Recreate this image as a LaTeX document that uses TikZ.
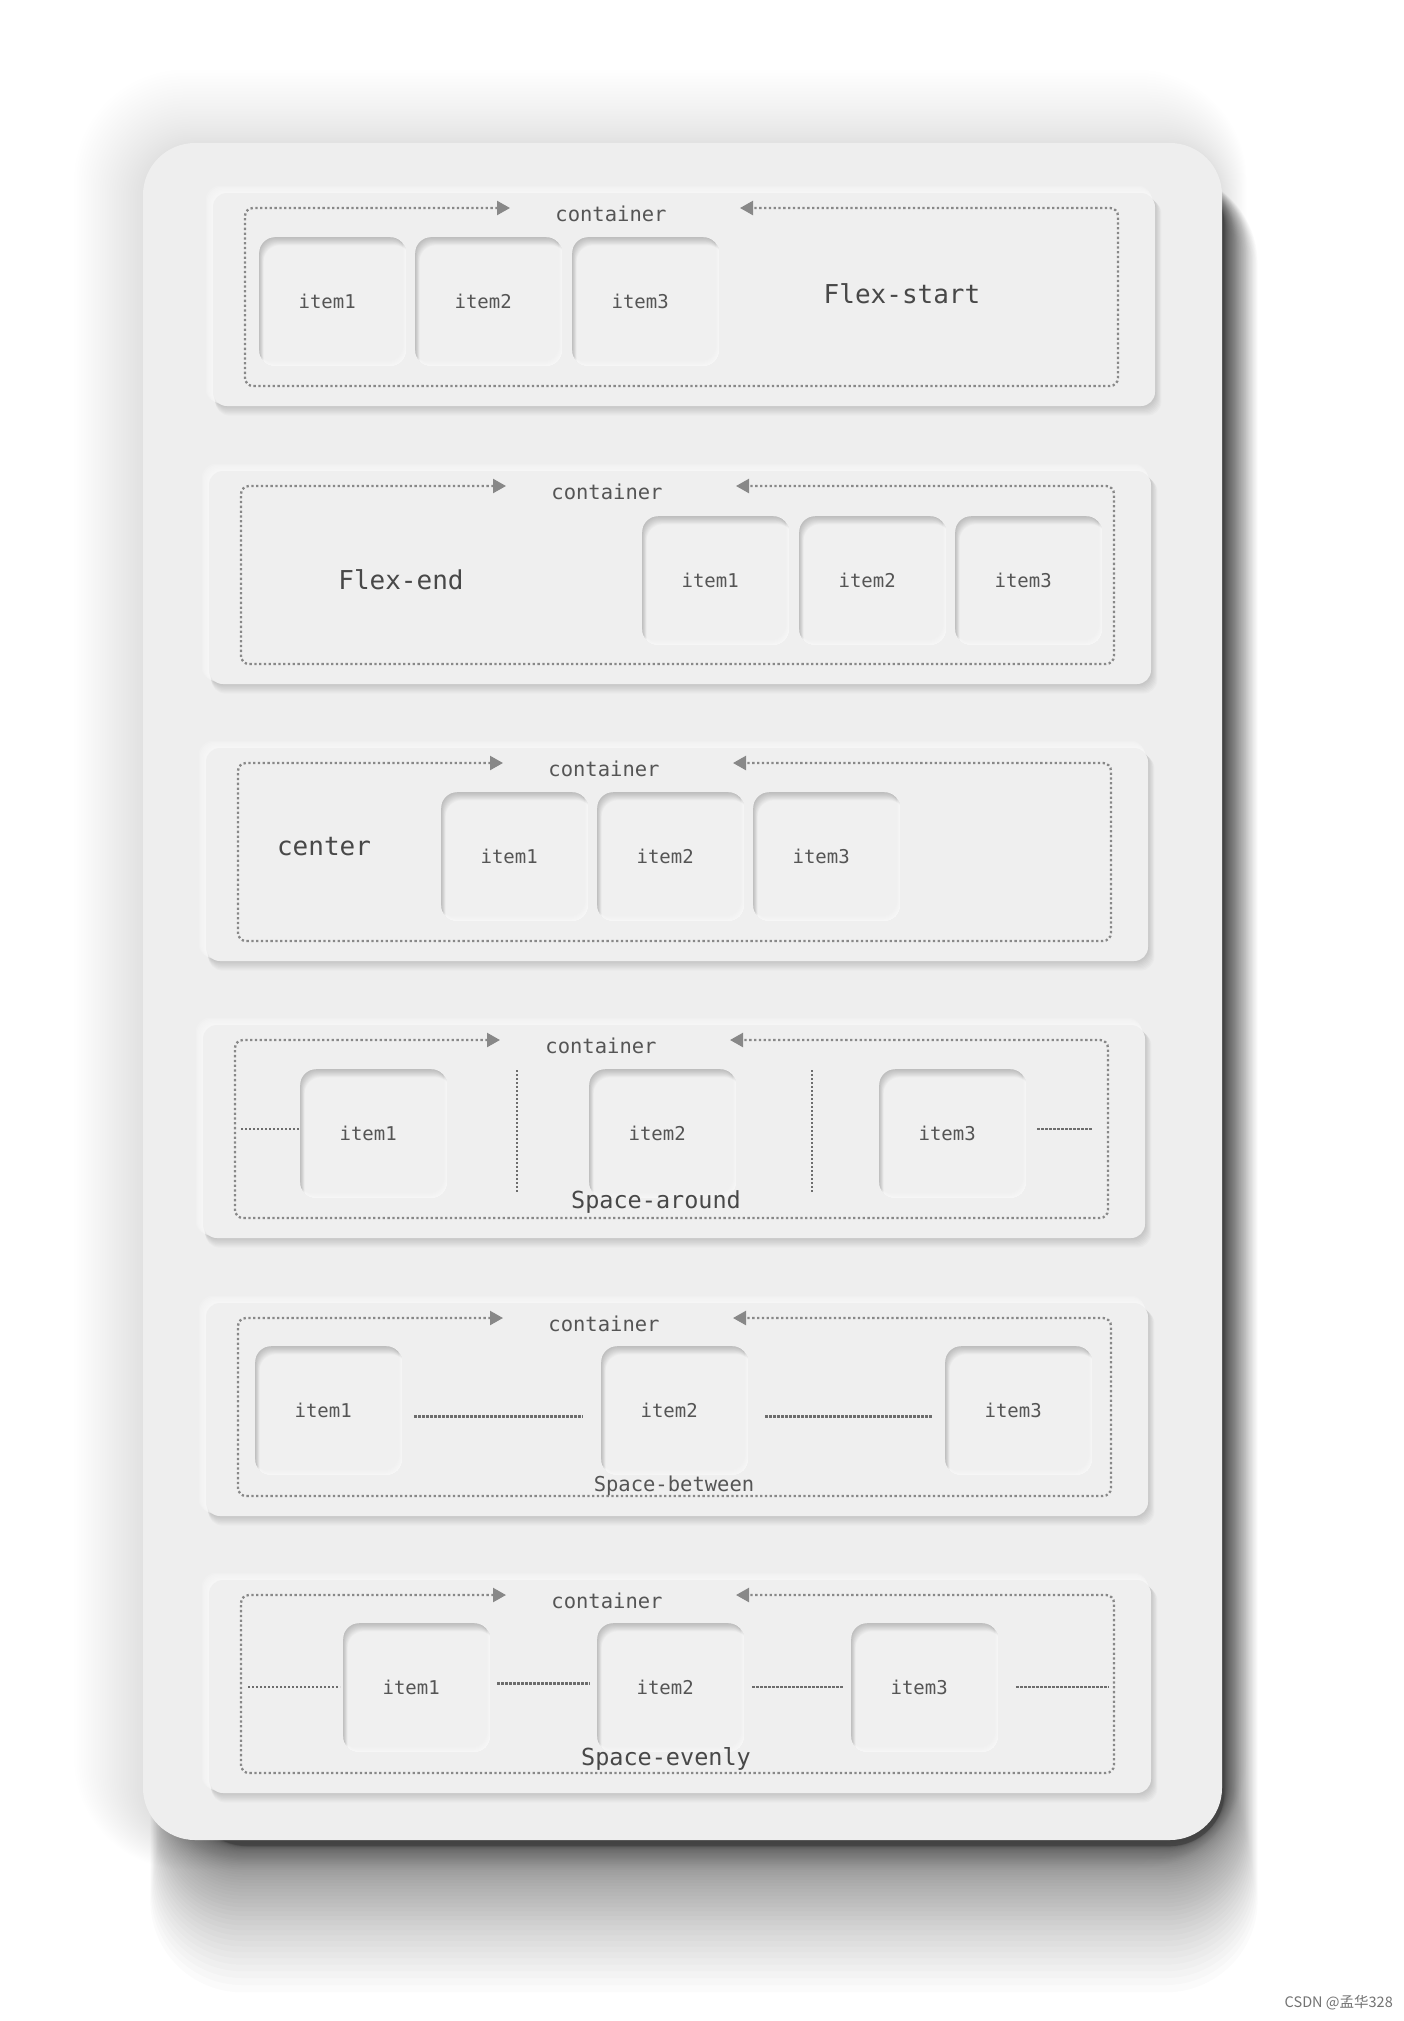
\documentclass[tikz,border=0pt]{standalone}
\usepackage{fontspec}
\newfontfamily\monof{DejaVu Sans Mono}
\newfontfamily\cjk{Noto Sans CJK SC}
\usetikzlibrary{arrows.meta}
\definecolor{cardfill}{HTML}{EEEEEE}
\definecolor{panelfill}{HTML}{EFEFEF}
\definecolor{itemfill}{HTML}{F0F0F0}
\definecolor{txt}{HTML}{555555}
\definecolor{titlec}{HTML}{484848}
\definecolor{dashc}{HTML}{888888}
\tikzset{
  itembox/.style={rounded corners=16, minimum width=147, minimum height=129, inner sep=0pt,
    fill=itemfill, text=txt, font=\monof\fontsize{19}{19}\selectfont, anchor=north west,
    execute at end node={\hspace*{11pt}},
    path picture={
      \foreach \k in {1,...,9}{
        \fill[black, opacity=0.022, even odd rule, rounded corners=16]
          ([shift={(-30,-30)}]path picture bounding box.north west) rectangle ([shift={(30,30)}]path picture bounding box.south east)
          ([shift={(0.5*\k,0.9*\k)}]path picture bounding box.north west) rectangle ([shift={(0.5*\k,0.9*\k)}]path picture bounding box.south east);
      }
      \foreach \k in {1,...,6}{
        \fill[white, opacity=0.13, even odd rule, rounded corners=16]
          ([shift={(-30,-30)}]path picture bounding box.north west) rectangle ([shift={(30,30)}]path picture bounding box.south east)
          ([shift={(-0.5*\k,-0.8*\k)}]path picture bounding box.north west) rectangle ([shift={(-0.5*\k,-0.8*\k)}]path picture bounding box.south east);
      }
    }},
  ctitle/.style={text=txt, font=\monof\fontsize{20.5}{20.5}\selectfont, inner sep=0pt},
  bigtitle/.style={text=titlec, font=\monof\fontsize{26}{26}\selectfont, inner sep=0pt},
  midtitle/.style={text=titlec, font=\monof\fontsize{23.5}{23.5}\selectfont, inner sep=0pt},
  cframe/.style={draw=dashc, line width=2.3, dash pattern=on 2.3pt off 2.5pt, rounded corners=8,
    {Triangle[length=13,width=14]}-{Triangle[length=13,width=14]}},
  dotline/.style={draw=dashc!80!black, line width=2.6, dash pattern=on 2.2pt off 1.8pt}
}
\newcommand\mypanel{%
  \foreach \k in {1,...,8}{\fill[black, opacity=0.02, rounded corners=14] ({-32+0.3*\k},{-15+0.8*\k}) rectangle ({910+0.8*\k},{198+1.2*\k});}
  \foreach \k in {1,...,6}{\fill[white, opacity=0.15, rounded corners=14] ({-32-1.2*\k},{-15-1.2*\k}) rectangle ({910-0.5*\k},{198-0.5*\k});}
  \fill[panelfill, rounded corners=14] (-32,-15) rectangle (910,198);
  \draw[cframe] (265,0) -- (0,0) -- (0,178) -- (873,178) -- (873,0) -- (495,0);
}
\begin{document}
\begin{tikzpicture}[x=1pt,y=-1pt]
\useasboundingbox (0,0) rectangle (1404,2021);
\fill[white] (0,0) rectangle (1404,2021);
% soft glow, mostly above the card
\foreach \i in {0,...,29}{
  \pgfmathsetmacro\t{(\i+0.5)/30}
  \pgfmathsetmacro\r{52+60*\t}
  \pgfmathsetmacro\xa{143-70*\t}
  \pgfmathsetmacro\ya{143-75*\t^1.3}
  \fill[black, opacity=0.0055, rounded corners=\r pt] (\xa,\ya) rectangle ({1222+25*\t},{1840+30*\t});
}
% dark shadow bottom right
\foreach \i in {0,...,59}{
  \pgfmathsetmacro\t{(\i+0.5)/60}
  \pgfmathsetmacro\r{52+40*\t}
  \pgfmathsetmacro\xa{195-45*\t}
  \pgfmathsetmacro\xb{1224+34*\t^1.5}
  \pgfmathsetmacro\yb{1846+150*\t^3}
  \fill[black, opacity=0.017, rounded corners=\r pt] (\xa,172) rectangle (\xb,\yb);
}
% card
\fill[cardfill, rounded corners=52] (143,143) rectangle (1222,1840);

% Panel 1: flex-start
\begin{scope}[shift={(245,208)}]
  \mypanel
  \node[ctitle] (c1) at (366,6) {container};
  \node[itembox] (p1a) at (14,29) {item1};
  \node[itembox] (p1b) at (170,29) {item2};
  \node[itembox] (p1c) at (327,29) {item3};
  \node[bigtitle] (t1) at (657,86) {Flex-start};
\end{scope}

% Panel 2: flex-end
\begin{scope}[shift={(241,486)}]
  \mypanel
  \node[ctitle] (c2) at (366,6) {container};
  \node[itembox] (p2a) at (401,30) {item1};
  \node[itembox] (p2b) at (558,30) {item2};
  \node[itembox] (p2c) at (714,30) {item3};
  \node[bigtitle] (t2) at (160,94) {Flex-end};
\end{scope}

% Panel 3: center
\begin{scope}[shift={(238,763)}]
  \mypanel
  \node[ctitle] (c3) at (366,6) {container};
  \node[itembox] (p3a) at (203,29) {item1};
  \node[itembox] (p3b) at (359,29) {item2};
  \node[itembox] (p3c) at (515,29) {item3};
  \node[bigtitle] (t3) at (86,84) {center};
\end{scope}

% Panel 4: space-around
\begin{scope}[shift={(235,1040)}]
  \mypanel
  \node[ctitle] (c4) at (366,6) {container};
  \node[itembox] (p4a) at (65,29) {item1};
  \node[itembox] (p4b) at (354,29) {item2};
  \node[itembox] (p4c) at (644,29) {item3};
  \coordinate (p4l) at (6,89);
  \coordinate (p4r) at (858,89);
  \coordinate (p4v1t) at (282,30);
  \coordinate (p4v1b) at (282,153);
  \coordinate (p4v2t) at (577,30);
  \coordinate (p4v2b) at (577,153);
  \draw[dotline] (p4l) -- (p4a.west |- p4l);
  \draw[dotline] ([xshift=11pt]p4c.east |- p4r) -- (p4r);
  \draw[dotline] (p4v1t) -- (p4v1b);
  \draw[dotline] (p4v2t) -- (p4v2b);
  \node[midtitle] (t4) at (421,162) {Space-around};
\end{scope}

% Panel 5: space-between
\begin{scope}[shift={(238,1318)}]
  \mypanel
  \node[ctitle] (c5) at (366,6) {container};
  \node[itembox] (p5a) at (17,28) {item1};
  \node[itembox] (p5b) at (363,28) {item2};
  \node[itembox] (p5c) at (707,28) {item3};
  \draw[dotline] ([xshift=12pt,yshift=-6pt]p5a.east) -- ([xshift=-18pt,yshift=-6pt]p5b.west);
  \draw[dotline] ([xshift=17pt,yshift=-6pt]p5b.east) -- ([xshift=-13pt,yshift=-6pt]p5c.west);
  \node[ctitle] (t5) at (436,168) {Space-between};
\end{scope}

% Panel 6: space-evenly
\begin{scope}[shift={(241,1595)}]
  \mypanel
  \node[ctitle] (c6) at (366,6) {container};
  \node[itembox] (p6a) at (102,28) {item1};
  \node[itembox] (p6b) at (356,28) {item2};
  \node[itembox] (p6c) at (610,28) {item3};
  \coordinate (p6l) at (7,92);
  \coordinate (p6r) at (868,92);
  \draw[dotline] (p6l) -- ([xshift=-3pt]p6a.west |- p6l);
  \draw[dotline] ([xshift=7pt,yshift=4pt]p6a.east) -- ([xshift=-7pt,yshift=4pt]p6b.west);
  \draw[dotline] ([xshift=8pt]p6b.east |- p6l) -- ([xshift=-7pt]p6c.west |- p6l);
  \draw[dotline] ([xshift=18pt]p6c.east |- p6r) -- (p6r);
  \node[midtitle] (t6) at (425,164) {Space-evenly};
\end{scope}

\node[anchor=east, text=black!55, font=\cjk\fontsize{14.5}{14.5}\selectfont, inner sep=0pt] (wm) at (1393,2003) {CSDN @孟华328};
\end{tikzpicture}
\end{document}
